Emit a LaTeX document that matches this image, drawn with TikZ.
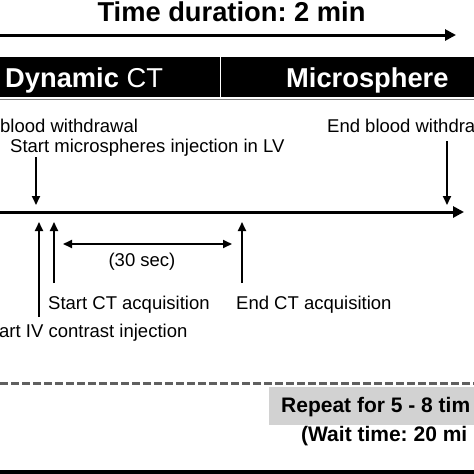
\documentclass[tikz,border=0pt]{standalone}
\usepackage{fontspec}
\setmainfont{Liberation Sans}
\usetikzlibrary{arrows.meta}
\frenchspacing
\tikzset{
  lbl/.style={anchor=base west, inner sep=0pt, font=\fontsize{18.5}{18.5}\selectfont},
  hd/.style={inner sep=0pt, font=\bfseries\fontsize{27.3}{27.3}\selectfont},
  rp/.style={anchor=base west, inner sep=0pt, font=\bfseries\fontsize{21}{21}\selectfont},
  ev/.style={line width=2pt, -{Triangle[length=9pt,width=8pt]}},
  axis/.style={line width=3pt, -{Triangle[length=11pt,width=11pt]}},
}
\begin{document}
\begin{tikzpicture}[x=1pt,y=-1pt]
\useasboundingbox (0,0) rectangle (474,474);
\clip (0,0) rectangle (474,474);
% header
\node[hd, anchor=base] (title) at (231.5,21) {Time duration: 2 min};
\coordinate (ta0) at (-5,35);
\coordinate (ta1) at (456,35);
\draw[axis] (ta0) -- (ta1);
\fill[black] (0,57) rectangle (474,97);
\draw[white, line width=1pt] (220,57) -- (220,97);
\draw[gray, line width=1pt] (0,99.5) -- (474,99.5);
\node[anchor=base west, inner sep=0pt, text=white, font=\fontsize{27.3}{27.3}\selectfont] (dct) at (5,87) {\textbf{Dynamic} CT};
\node[hd, anchor=base west, text=white] (msph) at (286,87) {Microsphere};
% events above the line
\node[lbl] (sbw) at (0,132) {blood withdrawal};
\node[lbl] (smi) at (10,152) {Start microspheres injection in LV};
\node[lbl] (ebw) at (327,132) {End blood withdra};
\coordinate (d0) at (36,157);
\coordinate (d1) at (36,205);
\coordinate (d2) at (447,141);
\coordinate (d3) at (447,205);
\draw[ev] (d0) -- (d1);
\draw[ev] (d2) -- (d3);
% time line
\coordinate (tl0) at (-5,212);
\coordinate (tl1) at (464,212);
\draw[axis] (tl0) -- (tl1);
% events below the line
\coordinate (u0) at (39,317);
\coordinate (u1) at (39,222);
\coordinate (u2) at (54,283);
\coordinate (u3) at (54,222);
\coordinate (u4) at (242,283);
\coordinate (u5) at (242,222);
\draw[ev] (u0) -- (u1);
\draw[ev] (u2) -- (u3);
\draw[ev] (u4) -- (u5);
\coordinate (s0) at (63,244);
\coordinate (s1) at (232,244);
\draw[line width=2pt, {Triangle[length=9pt,width=8pt]}-{Triangle[length=9pt,width=8pt]}] (s0) -- (s1);
\node[lbl, anchor=base] (dur) at (142,266) {(30 sec)};
\node[lbl] (sct) at (48,309) {Start CT acquisition};
\node[lbl] (ect) at (236,309) {End CT acquisition};
\node[lbl] (siv) at (-1,337) {art IV contrast injection};
% repeat
\draw[gray!75!black, line width=3pt, dash pattern=on 8pt off 3pt] (0,383) -- (474,383);
\fill[gray!35] (269,387) rectangle (480,425);
\node[rp] (rep) at (281,412) {Repeat for 5 - 8 tim};
\node[rp] (wait) at (301,441) {(Wait time: 20 mi};
\fill[black] (0,470) rectangle (474,476);
\end{tikzpicture}
\end{document}
